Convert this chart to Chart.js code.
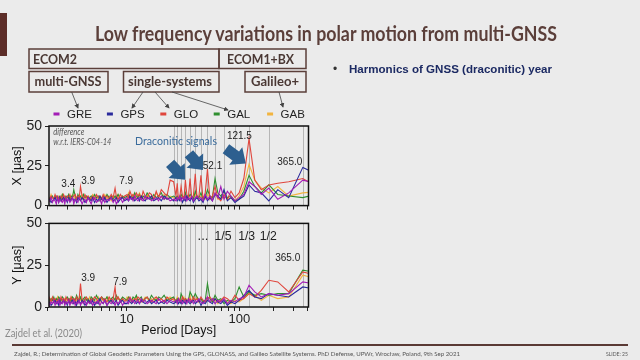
<!DOCTYPE html>
<html><head><meta charset="utf-8">
<script src="https://cdn.jsdelivr.net/npm/chart.js@4.4.0/dist/chart.umd.min.js"></script>
<style>
html,body{margin:0;padding:0;background:#ebebeb;}
#slide{position:relative;width:640px;height:360px;overflow:hidden;background:#ebebeb;}
canvas{position:absolute;}
svg{position:absolute;left:0;top:0;}
</style></head><body>
<div id="slide">
<canvas id="cx" width="320" height="105" style="left:0;top:112px"></canvas>
<canvas id="cy" width="320" height="128" style="left:0;top:212px"></canvas>
<svg id="ov" width="640" height="360"></svg>
</div>
<script>
// ---------------- data ----------------
const seriesNames = ['GRE','GPS','GLO','GAL','GAB'];
const seriesColors = ['#a31db6','#2a2a9c','#e0463d','#2f8f2f','#f2b43f'];
// periods [days] (long / mid / short parts)
const periods = [547.5,365.0,273.8,219.0,182.5,156.4,136.9,121.7,109.5,99.5,91.3,84.2,78.2,73.0,68.4,64.4,60.8,57.6,54.8,52.1,49.8,47.6,45.6,43.8,42.1,40.6,39.1,37.8,36.5,35.3,34.2,33.2,32.2,31.3,30.4,29.6,28.8,28.1,27.4,
 26.1,24.3,22.8,21.5,20.3,19.2,18.3,17.4,16.6,15.9,15.2,14.6,14.0,13.5,13.0,12.6,12.2,11.8,11.4,11.1,10.7,10.4,10.1,
 9.6,9.2,8.8,8.4,8.1,7.9,7.6,7.3,7.0,6.7,6.4,6.2,6.0,5.8,5.6,5.4,5.2,5.0,4.85,4.7,4.55,4.4,4.27,4.15,4.03,3.9,3.8,3.7,3.6,3.5,3.4,3.31,3.22,3.14,3.06,2.98,2.9,2.83,2.76,2.69,2.62,2.56,2.5,2.44,2.38,2.32,2.26,2.2,2.14,2.08,2.02];

// X pole amplitudes [µas]
const xGRE = [13,16,8,4,11,7,12,15,7,5,3,6,9,4,12,5,8,3,6,4,7,3,5,4,6,5,3,6,4,5,3,6,4,5,3,6,4,5,3,
 4,3,5,4,6,3,5,4,3,5,4,6,3,4,5,3,4,6,3,5,4,3,5,
 4,2,5,3,1,4,2,5,3,4,2,5,1,4,3,2,5,4,1,3,5,2,4,3,1,4,5,2,3,4,1,5,3,2,4,3,5,1,4,2,3,4,2,5,1,3,4,2,5,3,2];
const xGPS = [18,24,5,10,3,8,9,13,6,4,2,5,3,10,4,6,7,3,5,3,6,2,4,3,5,4,2,5,3,4,6,3,4,2,5,3,4,3,5,
 3,5,4,6,3,5,4,3,6,4,5,3,4,6,3,5,4,3,5,4,6,3,4,
 3,5,4,2,5,4,3,5,4,2,5,3,4,6,3,4,2,5,3,4,5,3,2,4,5,3,4,5,2,4,3,5,4,3,5,2,4,3,5,4,3,5,2,4,3,5,4,3,2,4,3];
const xGLO = [10,17,15,14,13,10,16,42,17,8,5,9,4,7,3,5,12,6,4,23,8,4,19,6,5,20,6,5,17,5,7,16,4,6,12,5,4,14,6,
 15,16,6,8,10,5,9,4,7,8,5,6,9,4,7,6,8,5,7,6,9,5,7,
 6,5,7,4,6,11,5,7,4,6,5,7,4,6,5,7,4,6,5,3,6,5,7,4,6,12,5,6,4,7,6,5,4,7,5,6,4,5,7,4,6,5,4,6,5,7,4,5,6,4,5];
const xGAL = [8,5,6,7,13,8,12,19,9,4,3,6,5,9,6,8,17,5,6,10,5,4,8,5,6,9,4,6,7,5,4,8,5,6,7,4,5,6,5,
 6,5,7,4,8,6,5,7,4,6,8,5,6,4,7,5,6,8,4,6,5,7,6,
 5,6,4,7,5,6,4,6,5,7,4,6,5,3,6,5,7,4,6,5,4,6,5,7,4,6,5,7,4,6,10,5,6,4,7,5,6,4,5,7,4,6,5,4,6,5,4,6,5,4,6];
const xGAB = [9,8,6,12,8,11,16,26,12,6,3,5,4,6,5,4,8,4,5,7,4,5,6,4,5,7,4,5,6,4,5,6,4,5,6,4,5,6,4,
 5,6,4,7,5,6,8,4,6,5,7,4,6,5,8,6,5,4,7,5,6,8,5,
 4,6,5,7,4,6,5,3,6,4,7,5,4,6,5,4,6,7,4,5,6,4,5,6,7,5,4,6,5,4,6,7,5,4,6,5,4,6,5,7,4,5,6,4,5,6,4,5,7,4,5];

// Y pole amplitudes [µas]
const yGRE = [13,15,8,7,8,6,9,13,6,5,3,4,2,5,3,4,2,5,3,6,4,2,3,5,3,4,2,4,3,5,2,4,3,2,4,3,5,2,4,
 3,4,2,4,3,5,2,3,4,3,2,4,3,5,2,4,3,2,4,3,5,2,3,
 3,1,4,2,3,1,4,2,3,1,4,2,3,1,4,2,3,1,4,2,3,1,4,2,3,1,4,2,3,1,4,2,3,1,4,2,3,1,4,2,3,1,4,2,3,1,4,2,3,1,4];
const yGPS = [10,12,6,7,8,5,6,10,7,4,2,3,1,4,2,3,5,2,3,4,2,3,1,4,3,2,4,3,2,3,4,2,3,4,2,3,2,4,3,
 2,3,4,2,3,2,4,3,2,4,3,2,3,4,2,3,2,4,3,2,3,4,2,
 2,4,3,1,4,3,2,4,3,1,4,2,3,5,2,3,1,4,2,3,4,2,1,3,4,2,3,4,1,3,2,4,3,2,4,1,3,2,4,3,2,4,1,3,2,4,3,2,1,3,2];
const yGLO = [18,21,9,15,16,10,6,8,5,4,7,3,5,6,4,3,5,4,6,5,3,4,6,3,5,4,6,3,5,4,3,5,4,6,3,4,5,3,4,
 5,4,6,3,5,4,6,5,3,4,6,5,4,3,5,6,4,5,3,4,6,5,4,
 4,5,3,6,4,12,5,4,6,3,5,4,6,5,3,5,6,4,5,3,4,6,5,3,4,14,5,4,6,3,5,4,6,3,5,4,6,3,5,4,6,3,5,4,3,5,4,6,3,5,7];
const yGAL = [20,22,8,8,7,8,7,9,6,12,5,3,4,2,5,4,7,3,5,14,4,3,5,4,6,8,5,7,9,4,3,5,4,6,8,3,4,5,3,
 6,5,4,7,5,6,4,5,7,4,6,5,3,6,5,4,7,5,6,4,5,6,4,
 5,6,4,5,7,4,6,5,3,6,4,5,6,4,5,7,4,5,6,3,5,4,6,5,3,6,4,5,7,4,5,6,3,5,4,6,5,3,5,6,4,5,6,4,5,3,6,4,5,4,6];
const yGAB = [16,19,6,5,7,4,7,8,5,3,4,2,3,5,4,2,4,3,5,6,3,4,5,3,6,4,5,3,7,4,5,3,6,4,3,5,4,6,3,
 4,6,5,3,5,4,6,3,5,4,5,6,4,5,3,4,6,4,5,3,4,5,6,
 3,5,4,6,3,5,4,3,5,6,3,4,5,3,6,4,3,5,4,6,3,5,4,3,5,4,6,3,4,5,3,4,6,3,5,4,3,5,4,3,5,4,3,6,4,5,3,4,5,3,4];

const xTicks = [2,3,4,5,6,7,8,9,10,20,30,40,50,60,70,80,90,100,200,300,400];
const xTickLabels = [10,100];
const yTicks = [0,25,50];
const harmonics = [365.0,182.5,121.7,91.25,73.0,60.8,52.1,45.6,40.6,36.5,33.2,30.4,28.1,26.1];

// ---------------- charts ----------------
Chart.defaults.font.family = '"Liberation Sans", Arial, sans-serif';

const panelPlugin = {
  id:'panel',
  beforeDatasetsDraw(chart){
    const {ctx, chartArea:a, scales:{x}} = chart;
    ctx.save(); ctx.strokeStyle='#b6b6b6'; ctx.lineWidth=1;
    harmonics.forEach(p=>{const px=Math.round(x.getPixelForValue(p))+0.5;ctx.beginPath();ctx.moveTo(px,a.top);ctx.lineTo(px,a.bottom);ctx.stroke();});
    ctx.restore();
  },
  afterDatasetsDraw(chart,args,o){
    const {ctx, chartArea:a, scales:{x,y}} = chart;
    ctx.save();
    (o.arrows||[]).forEach(ar=>{
      const x1=x.getPixelForValue(ar.p1), y1=y.getPixelForValue(ar.v1), x2=x.getPixelForValue(ar.p2), y2=y.getPixelForValue(ar.v2);
      const dx=x2-x1, dy=y2-y1, L=Math.hypot(dx,dy), ux=dx/L, uy=dy/L, nx=-uy, ny=ux;
      const sw=5.5, hw=11, hl=12.5, bx=x2-ux*hl, by=y2-uy*hl;
      ctx.fillStyle='#2d5f8f'; ctx.beginPath();
      ctx.moveTo(x1+nx*sw,y1+ny*sw); ctx.lineTo(bx+nx*sw,by+ny*sw); ctx.lineTo(bx+nx*hw,by+ny*hw);
      ctx.lineTo(x2,y2); ctx.lineTo(bx-nx*hw,by-ny*hw); ctx.lineTo(bx-nx*sw,by-ny*sw); ctx.lineTo(x1-nx*sw,y1-ny*sw);
      ctx.closePath(); ctx.fill();
    });
    (o.labels||[]).forEach(l=>{
      ctx.save();
      ctx.font=l.font||'10px "Liberation Sans"'; ctx.fillStyle=l.color||'#222';
      ctx.textBaseline='middle';
      let px=x.getPixelForValue(l.p), py=y.getPixelForValue(l.v);
      const m=ctx.measureText(l.t).width, sc=l.w? l.w/m : 1;
      ctx.translate(px,py); ctx.scale(sc,1);
      ctx.textAlign=l.align||'center';
      ctx.fillText(l.t,0,0);
      ctx.restore();
    });
    ctx.strokeStyle='#111'; ctx.lineWidth=1.5;
    ctx.strokeRect(a.left,a.top,a.right-a.left,a.bottom-a.top);
    ctx.restore();
  }
};

function buildDatasets(vals){
  return seriesNames.map((n,i)=>({label:n, data:periods.map((p,j)=>({x:p,y:vals[i][j]})),
    borderColor:seriesColors[i], backgroundColor:seriesColors[i], borderWidth:1.1, pointRadius:0, tension:0, fill:false}));
}

function makeChart(id, vals, cfg){
  return new Chart(document.getElementById(id), {
    type:'line',
    data:{datasets:buildDatasets(vals)},
    options:{
      responsive:false, animation:false, events:[],
      layout:{padding:{top:cfg.padTop,right:11.5,left:0,bottom:0}},
      plugins:{legend:{display:false}, tooltip:{enabled:false}, panel:{labels:cfg.labels, arrows:cfg.arrows}},
      scales:{
        x:{type:'logarithmic', min:2.05, max:410,
          afterBuildTicks:s=>{s.ticks=xTicks.map(v=>({value:v}));},
          afterFit:s=>{s.height=cfg.xH;},
          ticks:{display:cfg.xLabels, autoSkip:false, maxRotation:0, minRotation:0, padding:1, color:'#222', font:{size:13},
            callback:v=>xTickLabels.includes(v)?String(v):''},
          grid:{drawOnChartArea:false, drawTicks:true, tickLength:4, color:'#222'},
          border:{display:false},
          title:{display:!!cfg.xTitle, text:cfg.xTitle||'', color:'#111', font:{size:12.5}, padding:{top:0,bottom:2}}},
        y:{min:0, max:50,
          afterBuildTicks:s=>{s.ticks=yTicks.map(v=>({value:v}));},
          afterFit:s=>{s.width=49;},
          ticks:{color:'#222', font:{size:14}, padding:3},
          grid:{drawOnChartArea:false, tickLength:4, color:'#222'},
          border:{display:false},
          title:{display:true, text:cfg.yTitle, color:'#111', font:{size:12.5}, padding:{top:10.5,bottom:0}}}
      }
    },
    plugins:[panelPlugin]
  });
}

makeChart('cx',[xGRE,xGPS,xGLO,xGAL,xGAB],{padTop:14, xH:9, xLabels:false, yTitle:'X [μas]',
  labels:[
    {t:'difference', p:2.24, v:46, align:'left', font:'italic 9px Lato', color:'#555', w:31},
    {t:'w.r.t. IERS-C04-14', p:2.24, v:40.2, align:'left', font:'italic 9px Lato', color:'#555', w:58},
    {t:'Draconitic signals', p:27.4, v:40.5, font:'12px Lato', color:'#3b6c9c', w:82},
    {t:'3.4', p:3.04, v:13.3}, {t:'3.9', p:4.56, v:15.5}, {t:'7.9', p:9.9, v:15.5},
    {t:'52.1', p:57.7, v:24.9}, {t:'121.5', p:100, v:43.8}, {t:'365.0', p:280, v:27.1}
  ],
  arrows:[{p1:24.3,v1:26.5,p2:33,v2:16.2},{p1:35.7,v1:32.6,p2:47.5,v2:22.3},{p1:76,v1:35.7,p2:114,v2:26.5}]
});
makeChart('cy',[yGRE,yGPS,yGLO,yGAL,yGAB],{padTop:11, xH:33, xLabels:true, xTitle:'Period [Days]', yTitle:'Y [μas]',
  labels:[
    {t:'3.9', p:4.56, v:17.4}, {t:'7.9', p:8.76, v:15},
    {t:'...', p:47.6, v:42.3, font:'13px "Liberation Sans"'}, {t:'1/5', p:71.5, v:42.3, font:'13.5px "Liberation Sans"', w:17},
    {t:'1/3', p:116, v:42.3, font:'13.5px "Liberation Sans"', w:17}, {t:'1/2', p:180, v:42.3, font:'13.5px "Liberation Sans"', w:17},
    {t:'365.0', p:268, v:29.2}
  ]
});

// ---------------- slide decorations ----------------
(function(){
  const brown='#5b3f3a';
  let s='';
  s+='<defs><marker id="ah" markerWidth="6" markerHeight="6" refX="5" refY="3" orient="auto"><path d="M0,0 L6,3 L0,6 z" fill="#444"/></marker></defs>';
  s+='<rect x="0" y="13" width="7" height="43" fill="#5c2d28"/>';
  s+='<text x="95" y="41" font-family="Lato" font-weight="700" font-size="20.5" fill="'+brown+'" textLength="462" lengthAdjust="spacingAndGlyphs">Low frequency variations in polar motion from multi-GNSS</text>';
  const boxes=[[29,49,190,19.5],[219,49,87,19.5],[29,71.5,79,20.5],[123.5,71.5,95.5,20.5],[245,71.5,61,20.5]];
  boxes.forEach(b=>{s+='<rect x="'+b[0]+'" y="'+b[1]+'" width="'+b[2]+'" height="'+b[3]+'" fill="none" stroke="'+brown+'" stroke-width="1.5"/>';});
  const bt=[['ECOM2',33,63.5,44],['ECOM1+BX',227,63.5,67],['multi-GNSS',34.5,86,67],['single-systems',128,86,84],['Galileo+',251,86,48]];
  bt.forEach(t=>{s+='<text x="'+t[1]+'" y="'+t[2]+'" font-family="Lato" font-weight="700" font-size="12.5" fill="#4a3834" textLength="'+t[3]+'" lengthAdjust="spacingAndGlyphs">'+t[0]+'</text>';});
  const cl=[[71.7,92,78,108],[143,92,132,108],[155,92,169,108],[172,92,228,110],[279,92,283,107]];
  cl.forEach(c=>{s+='<line x1="'+c[0]+'" y1="'+c[1]+'" x2="'+c[2]+'" y2="'+c[3]+'" stroke="#444" stroke-width="0.8" marker-end="url(#ah)"/>';});
  seriesNames.forEach((n,i)=>{
    const dx=53.5+i*53.4;
    s+='<rect x="'+dx+'" y="112.5" width="6" height="3" fill="'+seriesColors[i]+'"/>';
    s+='<text x="'+(dx+13.5)+'" y="118" font-family="Liberation Sans" font-size="11.5" fill="#222">'+n+'</text>';
  });
  s+='<text x="333" y="73" font-family="Liberation Sans" font-size="12" fill="#333">•</text>';
  s+='<text x="349" y="73" font-family="Liberation Sans" font-weight="700" font-size="11.5" fill="#1c2a63" textLength="203" lengthAdjust="spacingAndGlyphs">Harmonics of GNSS (draconitic) year</text>';
  s+='<text x="5" y="337" font-family="Lato" font-size="11" fill="#8a8a8a" textLength="77" lengthAdjust="spacingAndGlyphs">Zajdel et al. (2020)</text>';
  s+='<rect x="12" y="344" width="616" height="2" fill="#5a3a35"/>';
  s+='<text x="14" y="356" font-family="Lato" font-size="6.5" fill="#555" textLength="446" lengthAdjust="spacingAndGlyphs">Zajdel, R.; Determination of Global Geodetic Parameters Using the GPS, GLONASS, and Galileo Satellite Systems. PhD Defense, UPWr, Wrocław, Poland, 9th Sep 2021</text>';
  s+='<text x="606" y="356" font-family="Lato" font-size="6.5" fill="#555" textLength="22" lengthAdjust="spacingAndGlyphs">SLIDE:  25</text>';
  document.getElementById('ov').innerHTML=s;
})();
</script>
</body></html>
